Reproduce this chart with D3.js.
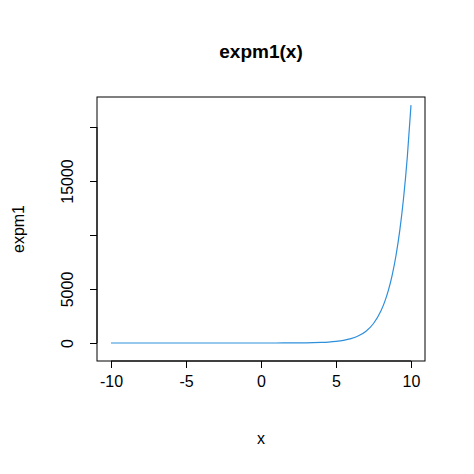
<!DOCTYPE html>
<html><head><meta charset="utf-8">
<script src="https://cdn.jsdelivr.net/npm/d3@7"></script>
<style>body{margin:0;background:#fff}text{font-family:"Liberation Sans",Arial,sans-serif}</style>
</head><body>
<svg id="c" width="474" height="474"></svg>
<script>
const xs = [-10,-9,-8,-7,-6,-5,-4,-3,-2,-1,-0.5,0,0.5,1,1.5,2,2.5,3,3.5,4,4.5,5,5.5,6,6.5,7,7.5,8,8.25,8.5,8.75,9,9.25,9.5,9.75,10];
const ys = [-1.0,-1.0,-1.0,-0.999,-0.998,-0.993,-0.982,-0.950,-0.865,-0.632,-0.393,0,0.65,1.72,3.48,6.39,11.18,19.09,32.12,53.6,89.0,147.4,243.7,402.4,664.1,1095.6,1807.0,2980,3827,4914,6310,8102,10404,13359,17154,22025];
const xTicks = [-10,-5,0,5,10];
const yTicks = [0,5000,10000,15000,20000];
const yLabels = ["0","5000","","15000",""];

const svg = d3.select("#c");
const L=97,R=425,T=97,B=361;
const x=d3.scaleLinear().domain([-10,10]).range([111,411]);
const y=d3.scaleLinear().domain([0,15000]).range([343,181]);

svg.append("rect").attr("x",L).attr("y",T).attr("width",R-L).attr("height",B-T).attr("fill","none").attr("stroke","#000");

const xa=svg.append("g").attr("transform",`translate(0,${B})`).call(d3.axisBottom(x).tickValues(xTicks).tickSize(7).tickPadding(8).tickFormat(d=>String(d)));
xa.select(".domain").attr("d",`M${x(-10)},0H${x(10)}`);
xa.selectAll("text").attr("font-size",16).attr("fill","#000");

const ya=svg.append("g").attr("transform",`translate(${L},0)`).call(d3.axisLeft(y).tickValues(yTicks).tickSize(7).tickFormat((d,i)=>yLabels[i]));
ya.select(".domain").attr("d",`M0,${y(0)}V${y(20000)}`);
ya.selectAll(".tick text").attr("font-size",16).attr("fill","#000").attr("text-anchor","middle")
  .attr("x",0).attr("y",0).attr("dy","0").attr("transform","translate(-24,0) rotate(-90)");

svg.append("path").datum(xs.map((v,i)=>[v,ys[i]])).attr("fill","none").attr("stroke","#2E8FDB").attr("stroke-width",1.2)
  .attr("d",d3.line().x(d=>x(d[0])).y(d=>y(d[1])).curve(d3.curveMonotoneX));

svg.append("text").attr("x",(L+R)/2).attr("y",58).attr("text-anchor","middle").attr("font-size",19).attr("font-weight","bold").text("expm1(x)");
svg.append("text").attr("x",(L+R)/2).attr("y",444).attr("text-anchor","middle").attr("font-size",16).text("x");
svg.append("text").attr("transform",`translate(24,${(T+B)/2}) rotate(-90)`).attr("text-anchor","middle").attr("font-size",16).text("expm1");
</script>
</body></html>
